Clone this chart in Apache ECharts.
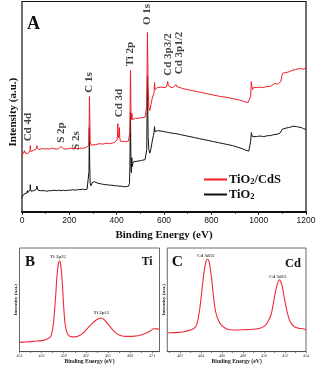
<!DOCTYPE html>
<html><head><meta charset="utf-8">
<script src="https://cdn.jsdelivr.net/npm/echarts@6/dist/echarts.min.js"></script>
<style>html,body{margin:0;padding:0;background:#fff}#c{width:319px;height:366px}</style>
</head><body><div id="c"></div>
<script>
// ---- Panel A: XPS survey ----
const surveyTicks = [0, 200, 400, 600, 800, 1000, 1200];
const redSurvey = [[0,55.5],[2,57],[4,58],[6,57],[8,58.5],[10,59.5],[11,61],[12,59],[14,58],[16,58.5],[18,57.5],[20,58.5],[22,59],[24,58],[26,59],[28,58.5],[30,59.5],[32,59],[34,61],[35,66],[36,62],[38,60],[40,60.5],[43,60],[46,61],[50,61.5],[54,61],[58,62],[61,63],[63,66],[65,64],[68,62.5],[72,62],[78,62.5],[85,63],[95,62.5],[105,63],[115,62.5],[125,63.5],[135,63],[145,62.5],[155,63],[162,63.5],[164,65],[166,63.5],[175,63],[185,62.5],[195,63],[205,63.5],[215,63],[224,63.5],[226,64.5],[228,63.5],[240,63],[250,63.5],[260,63.5],[270,64],[278,64],[282,66],[284,90],[285,115],[286,100],[288,70],[292,66.5],[296,67],[300,68],[310,67],[320,67.5],[330,68],[340,67.5],[350,68],[360,68.5],[370,68],[380,68.5],[390,69],[398,69],[402,72],[404,80],[405,88],[406,80],[408,74],[410,76],[411.5,84],[412,82],[413,74],[416,70.5],[420,69.5],[430,70],[440,70],[450,70.5],[454,72],[456,80],[457,110],[458,135],[458.5,141],[459,128],[460,105],[462,92],[464,98],[466,94],[468,92],[472,93],[480,93.5],[490,93],[500,94],[510,94],[520,94.5],[525,96],[527,105],[529,150],[530,179],[531,160],[533,125],[536,104],[540,101],[545,107],[550,113],[555,117],[558,119],[560,129],[562,122],[566,123],[572,124],[580,123.5],[590,124.5],[600,124],[610,124.5],[614,126],[616,130],[618,126],[622,124.5],[630,124],[640,124.5],[648,125],[651,127],[654,125],[660,124],[680,123],[700,122],[720,121],[740,120],[760,119],[780,118],[800,117],[820,116],[840,115],[860,114.5],[880,113.5],[900,112.5],[920,111.5],[940,110],[955,109],[962,108.5],[966,115],[969,130],[971,126],[974,122],[978,124],[985,123.5],[995,124],[1005,124.5],[1015,124],[1025,124.5],[1035,125],[1045,125],[1055,126],[1062,126],[1066,128],[1069,126.5],[1073,127],[1080,127.5],[1088,128],[1094,130],[1098,136],[1102,138.5],[1108,138],[1115,139],[1125,139.5],[1135,140.5],[1145,141.5],[1155,142],[1165,142.5],[1175,143],[1185,142.5],[1195,143],[1200,143.5]];
const blackSurvey = [[0,13.5],[2,15.5],[4,16.5],[6,16],[8,17.5],[10,17],[12,18],[14,17.5],[16,18],[18,17.5],[20,18.5],[22,18],[23,21],[24,19],[26,18.5],[28,19],[30,19.5],[32,19],[34,22],[35,27],[36,23],[38,20.5],[40,20],[43,20.5],[46,20],[50,21],[54,20.5],[58,21.5],[61,22.5],[63,25.5],[65,23.5],[68,21.5],[72,21],[78,21],[85,20.5],[95,21],[105,20.5],[115,21],[125,21],[135,21.5],[145,21],[155,21.5],[165,21],[175,21.5],[185,21],[195,21.5],[205,21.5],[215,22],[225,21.5],[235,22],[245,22],[255,22.5],[265,22],[275,22.5],[280,23],[283,40],[284.5,84],[286,50],[288,28],[292,26],[296,29],[300,30.5],[305,30],[310,29.5],[320,28.5],[330,28],[340,27.5],[350,27],[360,27],[370,26.5],[380,26.5],[390,26],[400,26],[410,25.5],[420,25.5],[430,25],[440,25],[450,25.5],[454,28],[456,45],[457,80],[458.5,99],[459.5,70],[460.5,45],[462,39],[463,48],[464,54],[466,45],[468,48],[472,50],[480,50.5],[490,50.5],[500,51],[510,51.5],[520,52],[525,53],[527,62],[529,110],[530,135],[531,110],[533,75],[536,62],[540,58.5],[545,63],[550,70],[555,76],[558,79],[560,85],[562,80],[566,80.5],[572,81],[580,80.5],[590,80.5],[600,80],[610,79.5],[620,79],[635,78.5],[650,78],[670,77],[690,76],[710,75],[730,74],[750,73],[770,72],[790,71],[810,70],[830,69],[850,68],[870,67],[890,66],[910,64.5],[930,63],[945,61.5],[958,60.5],[963,61],[966,70],[969,79],[971,77],[974,75],[980,75.5],[990,75],[1000,75.5],[1010,75.5],[1020,75],[1030,75.5],[1040,76],[1050,76],[1058,76.5],[1064,77],[1068,78],[1072,77],[1080,77.5],[1090,78.5],[1096,80],[1100,82.5],[1106,83],[1115,83.5],[1125,84],[1135,84.5],[1145,85.5],[1150,86],[1160,85],[1170,84.5],[1180,84],[1190,83],[1200,82]];
const peakNames = ['Cd 4d', 'S 2p', 'S 2s', 'C 1s', 'Cd 3d', 'Ti 2p', 'O 1s', 'Cd 3p3/2', 'Cd 3p1/2'];
const peakE = [25, 164, 229, 283, 410, 455.5, 530, 615.6, 663.5];
const peakY = [84.5, 79, 71, 129, 108.5, 157.5, 197, 157, 158.5];

// ---- Panel B: Ti 2p ----
const tiTicks = [453, 456, 459, 462, 465, 468, 471];
const tiTickMarks = [453, 454.5, 456, 457.5, 459, 460.5, 462, 463.5, 465, 466.5, 468, 469.5, 471];
const tiSpec = [[453,9.3],[453.5,9.5],[454,9.8],[454.5,10],[455,10.4],[455.5,10.7],[456,11],[456.5,12],[457,13.5],[457.3,16],[457.6,28],[457.9,55],[458.1,77],[458.3,89],[458.45,91],[458.6,87],[458.8,70],[459,45],[459.2,27],[459.5,18],[459.8,15.5],[460.2,14.8],[460.7,15],[461.2,16.5],[461.7,19],[462.2,23],[462.7,27],[463.2,30.5],[463.7,33],[464.1,33.8],[464.5,32],[464.9,28.5],[465.3,25],[465.7,21.5],[466.2,18],[466.8,16],[467.4,15.3],[468,15.3],[468.6,15.5],[469.2,16.2],[469.8,17.5],[470.3,19],[470.8,21],[471.2,23],[471.6,22.8],[472,22.5]];
const tiPeakNames = ['Ti 2p{s|3/2}', 'Ti 2p{s|1/2}'];
const tiPeakE = [458.2, 464.1];
const tiPeakY = [95.5, 39.5];

// ---- Panel C: Cd 3d ----
const cdTicks = [402, 404, 406, 408, 410, 412, 414];
const cdTickMarks = [401, 402, 403, 404, 405, 406, 407, 408, 409, 410, 411, 412, 413, 414];
const cdSpec = [[400.8,18.7],[401.3,19],[401.9,19.3],[402.4,20],[402.9,21.3],[403.2,22.5],[403.5,25],[403.7,31],[403.9,44],[404.1,62],[404.3,80],[404.5,91],[404.65,92.7],[404.8,89],[405,75],[405.2,55],[405.4,40],[405.7,30.5],[406,26],[406.4,23],[406.8,22],[407.4,21.7],[408,22],[408.6,22.2],[409.2,22.7],[409.7,23.7],[410.1,26],[410.4,30.5],[410.7,38],[410.95,52],[411.2,65],[411.45,72],[411.7,67],[411.95,53],[412.2,40],[412.5,30],[412.9,25],[413.3,23.5],[413.7,23],[414,22]];
const cdPeakNames = ['Cd 3d{s|5/2}', 'Cd 3d{s|3/2}'];
const cdPeakE = [404.45, 411.3];
const cdPeakY = [96.5, 75.5];

const SERIF = '"Liberation Serif", "DejaVu Serif", serif';
const subRich = { s: { fontSize: 3.5, fontFamily: SERIF, fontWeight: 'bold', color: '#222', verticalAlign: 'bottom' } };
const plain = v => String(v);

function smallAxisX(grid, min, max, ticks, marks) {
  return {
    gridIndex: grid, type: 'value', min: min, max: max,
    splitLine: { show: false },
    axisLine: { lineStyle: { color: '#444', width: 0.8 } },
    axisTick: { customValues: marks, length: 1.5, lineStyle: { color: '#444', width: 0.6 } },
    axisLabel: { customValues: ticks, formatter: plain, fontFamily: SERIF, fontSize: 4, color: '#333', margin: 2.5 },
    name: 'Binding Energy (eV)', nameLocation: 'middle', nameGap: 5.5,
    nameTextStyle: { fontFamily: SERIF, fontWeight: 'bold', fontSize: 5.7, color: '#222' }
  };
}
function smallAxisY(grid) {
  return {
    gridIndex: grid, type: 'value', min: 0, max: 104,
    axisLine: { show: false }, axisTick: { show: false }, axisLabel: { show: false }, splitLine: { show: false },
    name: 'Intensity (a.u.)', nameLocation: 'middle', nameGap: 1.5,
    nameTextStyle: { fontFamily: SERIF, fontWeight: 'bold', fontSize: 5, color: '#222' }
  };
}
function labelSeries(xi, names, es, ys, lbl) {
  return {
    type: 'scatter', xAxisIndex: xi, yAxisIndex: xi, symbolSize: 1, silent: true,
    itemStyle: { color: 'rgba(0,0,0,0)' },
    data: names.map((n, i) => ({ name: n, value: [es[i], ys[i]] })),
    label: Object.assign({ show: true, formatter: '{b}', position: 'inside', color: '#111', fontFamily: SERIF, fontWeight: 'bold' }, lbl)
  };
}

const chart = echarts.init(document.getElementById('c'), null, { renderer: 'canvas' });
chart.setOption({
  animation: false,
  backgroundColor: '#fff',
  grid: [
    { left: 17.5, top: 1.5, width: 288.5, height: 210.2, show: true, borderColor: '#111', borderWidth: 1.2 },
    { left: 19.5, top: 248, width: 140, height: 104, show: true, borderColor: '#444', borderWidth: 0.8 },
    { left: 167.3, top: 248, width: 138.7, height: 104, show: true, borderColor: '#444', borderWidth: 0.8 }
  ],
  xAxis: [
    {
      gridIndex: 0, type: 'value', min: 0, max: 1200, interval: 200,
      splitLine: { show: false },
      axisLine: { lineStyle: { color: '#111', width: 2 } },
      axisTick: { length: 3, lineStyle: { color: '#111', width: 1 } },
      minorTick: { show: true, splitNumber: 2, length: 2, lineStyle: { color: '#111', width: 1 } },
      axisLabel: { customValues: surveyTicks, formatter: plain, fontFamily: '"Liberation Sans", Arial, sans-serif', fontSize: 8.5, color: '#111', margin: 4 },
      name: 'Binding Energy (eV)', nameLocation: 'middle', nameGap: 18,
      nameTextStyle: { fontFamily: SERIF, fontWeight: 'bold', fontSize: 11, color: '#111' }
    },
    smallAxisX(1, 453, 472, tiTicks, tiTickMarks),
    smallAxisX(2, 400.8, 414, cdTicks, cdTickMarks)
  ],
  yAxis: [
    {
      gridIndex: 0, type: 'value', min: 0, max: 210,
      axisLine: { show: false }, axisTick: { show: false }, axisLabel: { show: false }, splitLine: { show: false },
      name: 'Intensity (a.u.)', nameLocation: 'middle', nameGap: 3,
      nameTextStyle: { fontFamily: SERIF, fontWeight: 'bold', fontSize: 11, color: '#111', padding: [0, 11, 0, 0] }
    },
    smallAxisY(1),
    smallAxisY(2)
  ],
  legend: {
    data: ['TiO2/CdS', 'TiO2'], orient: 'vertical', left: 199, top: 168,
    itemWidth: 23, itemHeight: 2, itemGap: 2, icon: 'rect',
    formatter: n => n.replace('2', '{s|2}'),
    textStyle: {
      fontFamily: SERIF, fontWeight: 'bold', fontSize: 12.5, color: '#111', padding: [0, 0, 0, -3],
      rich: { s: { fontFamily: SERIF, fontWeight: 'bold', fontSize: 8.5, color: '#111', verticalAlign: 'bottom' } }
    }
  },
  graphic: [
    { type: 'text', x: 33.5, y: 24, style: { text: 'A', font: 'bold 18px ' + SERIF, fill: '#111', align: 'center', verticalAlign: 'middle' } },
    { type: 'text', x: 30, y: 262, style: { text: 'B', font: 'bold 15px ' + SERIF, fill: '#111', align: 'center', verticalAlign: 'middle' } },
    { type: 'text', x: 147, y: 262.5, style: { text: 'Ti', font: 'bold 11.5px ' + SERIF, fill: '#111', align: 'center', verticalAlign: 'middle' } },
    { type: 'text', x: 177.3, y: 262.3, style: { text: 'C', font: 'bold 15.5px ' + SERIF, fill: '#111', align: 'center', verticalAlign: 'middle' } },
    { type: 'text', x: 293, y: 263.5, style: { text: 'Cd', font: 'bold 12.5px ' + SERIF, fill: '#111', align: 'center', verticalAlign: 'middle' } }
  ],
  series: [
    { name: 'TiO2', type: 'line', xAxisIndex: 0, yAxisIndex: 0, data: blackSurvey, symbol: 'none', z: 2,
      lineStyle: { color: '#111', width: 1 }, itemStyle: { color: '#111' } },
    { name: 'TiO2/CdS', type: 'line', xAxisIndex: 0, yAxisIndex: 0, data: redSurvey, symbol: 'none', z: 3,
      lineStyle: { color: '#ee1c25', width: 1 }, itemStyle: { color: '#ee1c25' } },
    labelSeries(0, peakNames, peakE, peakY, { rotate: 90, fontSize: 11 }),
    { type: 'line', xAxisIndex: 1, yAxisIndex: 1, data: tiSpec, symbol: 'none', smooth: 0.3,
      lineStyle: { color: '#ee2a3a', width: 1.1 }, itemStyle: { color: '#ee2a3a' } },
    labelSeries(1, tiPeakNames, tiPeakE, tiPeakY, { fontSize: 5, color: '#222', rich: subRich }),
    { type: 'line', xAxisIndex: 2, yAxisIndex: 2, data: cdSpec, symbol: 'none', smooth: 0.3,
      lineStyle: { color: '#ee2a3a', width: 1.1 }, itemStyle: { color: '#ee2a3a' } },
    labelSeries(2, cdPeakNames, cdPeakE, cdPeakY, { fontSize: 5, color: '#222', rich: subRich })
  ]
});
</script></body></html>
